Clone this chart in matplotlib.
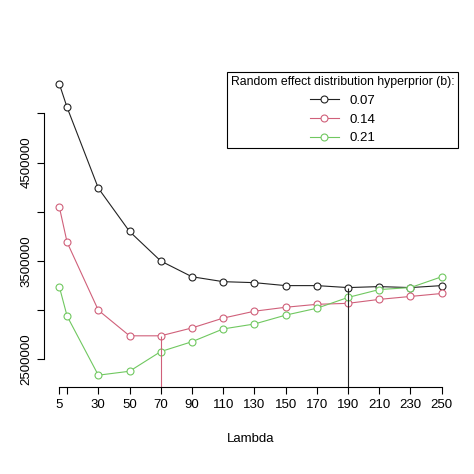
import matplotlib
matplotlib.use("Agg")
import matplotlib.pyplot as plt

lam = [5, 10, 30, 50, 70, 90, 110, 130, 150, 170, 190, 210, 230, 250]
s007 = [5.30e6, 5.06e6, 4.24e6, 3.80e6, 3.50e6, 3.34e6, 3.29e6, 3.28e6, 3.25e6, 3.25e6, 3.23e6, 3.24e6, 3.23e6, 3.25e6]
s014 = [4.05e6, 3.69e6, 3.00e6, 2.74e6, 2.74e6, 2.82e6, 2.92e6, 2.99e6, 3.03e6, 3.06e6, 3.07e6, 3.11e6, 3.14e6, 3.17e6]
s021 = [3.24e6, 2.94e6, 2.34e6, 2.38e6, 2.58e6, 2.68e6, 2.81e6, 2.86e6, 2.95e6, 3.02e6, 3.13e6, 3.21e6, 3.23e6, 3.34e6]
labels = ["0.07", "0.14", "0.21"]
colors = ["#222222", "#D0607A", "#70C860"]
xticks = [5, 10, 30, 50, 70, 90, 110, 130, 150, 170, 190, 210, 230, 250]
xticklabels = ["5", "", "30", "50", "70", "90", "110", "130", "150", "170", "190", "210", "230", "250"]
yticks = [2.5e6, 3.0e6, 3.5e6, 4.0e6, 4.5e6, 5.0e6]
yticklabels = ["2500000", "", "3500000", "", "4500000", ""]

plt.rcParams['font.family'] = ['Liberation Sans', 'DejaVu Sans']
fig = plt.figure(figsize=(4.74, 4.74), dpi=100)
ax = fig.add_axes([44/474, 1-387/474, (457-44)/474, (387-72)/474])
for s, c, l in zip([s007, s014, s021], colors, labels):
    ax.plot(lam, s, color=c, lw=0.8, marker='o', ms=5, mfc='white', mec=c, mew=0.8, label=l)
ymin = 2.22e6
ax.vlines([70], ymin, s014[lam.index(70)], color=colors[1], lw=0.8)
ax.vlines([190], ymin, s007[lam.index(190)], color=colors[0], lw=0.8)
ax.set_xlim(-4.8, 259.8)
ax.set_ylim(ymin, 5.42e6)
for sp in ['top', 'right']:
    ax.spines[sp].set_visible(False)
ax.spines['bottom'].set_bounds(5, 250)
ax.spines['left'].set_bounds(2.5e6, 5.0e6)
ax.set_xticks(xticks)
ax.set_xticklabels(xticklabels, fontsize=9.5)
ax.set_yticks(yticks)
ax.set_yticklabels(yticklabels, fontsize=9.5, rotation=90, va='center')
ax.tick_params(length=5, width=0.8)
ax.set_xlabel("Lambda", fontsize=9.5, labelpad=16)
leg = ax.legend(title="Random effect distribution hyperprior (b):", loc='upper right',
                bbox_to_anchor=(1.003, 1.0), fontsize=9.5, title_fontsize=8.8, fancybox=False,
                edgecolor='black', framealpha=1, borderaxespad=0, handlelength=2.2,
                borderpad=0.3)
leg.get_frame().set_linewidth(0.8)
fig.savefig("out.png", dpi=100)
